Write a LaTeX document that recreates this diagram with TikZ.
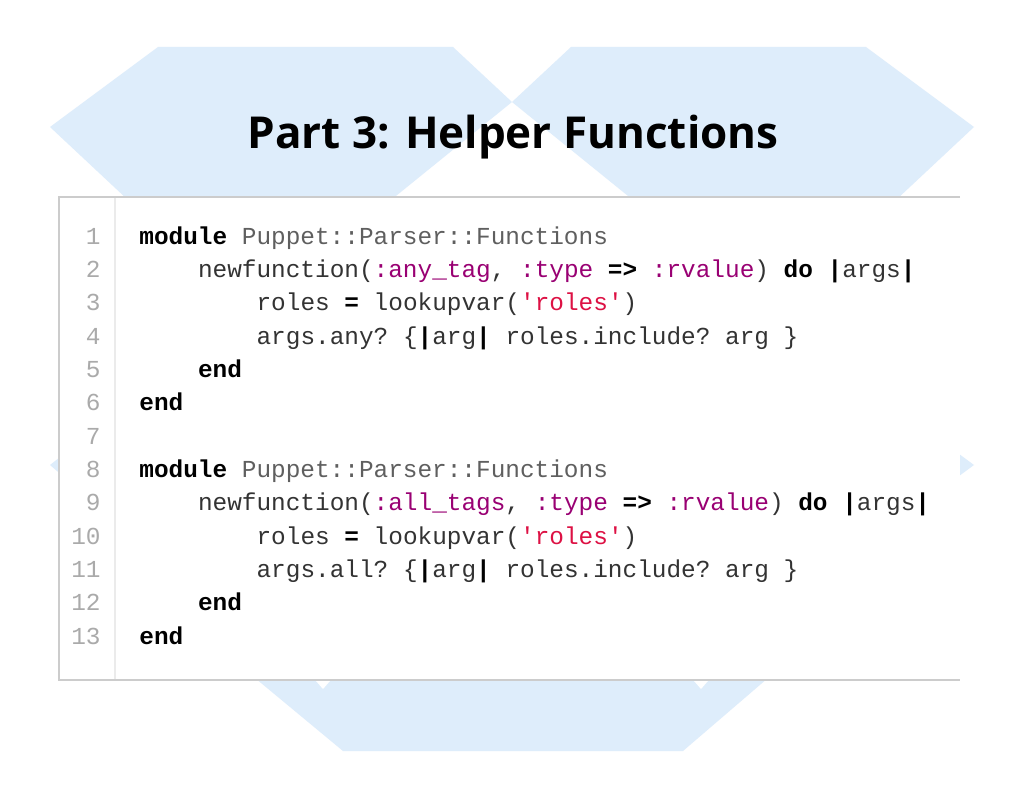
\documentclass[tikz,border=0pt]{standalone}
\usepackage{fontspec}
\setmonofont{Liberation Mono}
\newfontfamily\titlefont{Open Sans}
\definecolor{hexblue}{RGB}{222,237,251}
\definecolor{codetext}{RGB}{51,51,51}
\definecolor{clscol}{RGB}{95,95,95}
\definecolor{symcol}{RGB}{153,0,115}
\definecolor{strcol}{RGB}{221,17,68}
\definecolor{linenocol}{RGB}{170,170,170}
\definecolor{boxline}{RGB}{204,204,204}
\definecolor{gutterline}{RGB}{235,235,235}
\newcommand{\codekw}[1]{{\bfseries\color{black}#1}}
\newcommand{\codesym}[1]{{\color{symcol}#1}}
\newcommand{\codestr}[1]{{\color{strcol}#1}}
\newcommand{\codecls}[1]{{\color{clscol}#1}}
\tikzset{
  hex/.style={fill=hexblue, draw=none},
  title/.style={anchor=base, inner sep=0pt, font=\titlefont\bfseries\fontsize{22}{26}\selectfont},
  code/.style={anchor=base west, inner sep=0pt, text=codetext, font=\ttfamily\fontsize{12.2}{14}\selectfont},
  lineno/.style={anchor=base east, inner sep=0pt, text=linenocol, font=\ttfamily\fontsize{12.2}{14}\selectfont},
}
\begin{document}
\begin{tikzpicture}[x=0.5pt, y=-0.5pt]
\useasboundingbox (0,0) rectangle (1024,792);
\fill[white] (0,0) rectangle (1024,792);

\fill[hex] (50,127) -- (158,47) -- (453,47) -- (512,102) -- (391,200) -- (128,200) -- cycle;
\fill[hex] (974,127) -- (866,47) -- (571,47) -- (512,102) -- (633,200) -- (896,200) -- cycle;
\fill[hex] (64,454) -- (50,465) -- (64,477) -- cycle;
\fill[hex] (955,451) -- (974,465) -- (955,479) -- cycle;
\fill[hex] (255,678) -- (768,678) -- (683,751) -- (343,751) -- cycle;
\fill[white] (316,681) -- (330,681) -- (323,689) -- cycle;
\fill[white] (694,681) -- (708,681) -- (701,689) -- cycle;

\fill[white] (59,197) rectangle (960,680);
\draw[gutterline, line width=0.8pt] (115,197) -- (115,680);
\draw[boxline, line width=0.8pt] (960,197) -- (59,197) -- (59,680) -- (960,680);

\node[title] (title) at (513,149) {Part 3: Helper Functions};

\node[lineno] (n01) at (101,244) {1};
\node[lineno] (n02) at (101,277.3) {2};
\node[lineno] (n03) at (101,310.7) {3};
\node[lineno] (n04) at (101,344) {4};
\node[lineno] (n05) at (101,377.3) {5};
\node[lineno] (n06) at (101,410.7) {6};
\node[lineno] (n07) at (101,444) {7};
\node[lineno] (n08) at (101,477.3) {8};
\node[lineno] (n09) at (101,510.7) {9};
\node[lineno] (n10) at (101,544) {10};
\node[lineno] (n11) at (101,577.3) {11};
\node[lineno] (n12) at (101,610.7) {12};
\node[lineno] (n13) at (101,644) {13};

\node[code] (c01) at (139,244) {\codekw{module} \codecls{Puppet::Parser::Functions}};
\node[code] (c02) at (197.6,277.3) {newfunction(\codesym{:any\_tag}, \codesym{:type} \codekw{=>} \codesym{:rvalue}) \codekw{do} \codekw{|}args\codekw{|}};
\node[code] (c03) at (256.2,310.7) {roles \codekw{=} lookupvar(\codestr{\textquotesingle roles\textquotesingle})};
\node[code] (c04) at (256.2,344) {args.any? \{\codekw{|}arg\codekw{|} roles.include? arg \}};
\node[code] (c05) at (197.6,377.3) {\codekw{end}};
\node[code] (c06) at (139,410.7) {\codekw{end}};

\node[code] (c08) at (139,477.3) {\codekw{module} \codecls{Puppet::Parser::Functions}};
\node[code] (c09) at (197.6,510.7) {newfunction(\codesym{:all\_tags}, \codesym{:type} \codekw{=>} \codesym{:rvalue}) \codekw{do} \codekw{|}args\codekw{|}};
\node[code] (c10) at (256.2,544) {roles \codekw{=} lookupvar(\codestr{\textquotesingle roles\textquotesingle})};
\node[code] (c11) at (256.2,577.3) {args.all? \{\codekw{|}arg\codekw{|} roles.include? arg \}};
\node[code] (c12) at (197.6,610.7) {\codekw{end}};
\node[code] (c13) at (139,644) {\codekw{end}};
\end{tikzpicture}
\end{document}
